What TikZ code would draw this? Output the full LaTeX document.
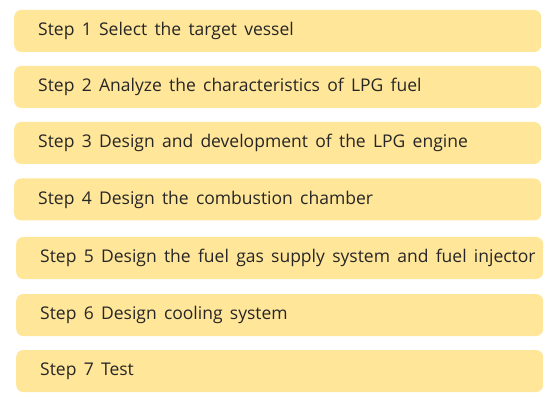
\documentclass[tikz,border=0pt]{standalone}
\usepackage{fontspec}
\setmainfont[WordSpace=1.6]{Open Sans}
\usepackage{xcolor}
\usetikzlibrary{positioning}
\definecolor{stepfill}{HTML}{FFE699}
\definecolor{steptextcol}{HTML}{262626}
\tikzset{
  stepbox/.style={fill=stepfill, draw=none, rounded corners=7pt, anchor=west,
    minimum width=527pt, minimum height=42pt, inner sep=0pt},
  steplabel/.style={inner sep=0pt, text=steptextcol, font=\fontsize{17.5}{21}\selectfont}
}
\begin{document}
\begin{tikzpicture}[x=1pt, y=-1pt]
  % Fix the page size
  \useasboundingbox (0,0) rectangle (550,404);

  % Boxes for the steps
  \node[stepbox] (s1) at (14,31) {};
  \node[stepbox] (s2) at (14,87) {};
  \node[stepbox] (s3) at (14,143) {};
  \node[stepbox] (s4) at (14,199.5) {};
  \node[stepbox] (s5) at (16,258) {};
  \node[stepbox] (s6) at (16,315) {};
  \node[stepbox] (s7) at (16,371) {};

  % Texts of the steps
  \node[steplabel, right=24pt of s1.west] (t1) {Step 1 Select the target vessel};
  \node[steplabel, right=24pt of s2.west] (t2) {Step 2 Analyze the characteristics of LPG fuel};
  \node[steplabel, right=24pt of s3.west] (t3) {Step 3 Design and development of the LPG engine};
  \node[steplabel, right=24pt of s4.west] (t4) {Step 4 Design the combustion chamber};
  \node[steplabel, right=24pt of s5.west] (t5) {Step 5 Design the fuel gas supply system and fuel injector};
  \node[steplabel, right=24pt of s6.west] (t6) {Step 6 Design cooling system};
  \node[steplabel, right=24pt of s7.west] (t7) {Step 7 Test};
\end{tikzpicture}
\end{document}
